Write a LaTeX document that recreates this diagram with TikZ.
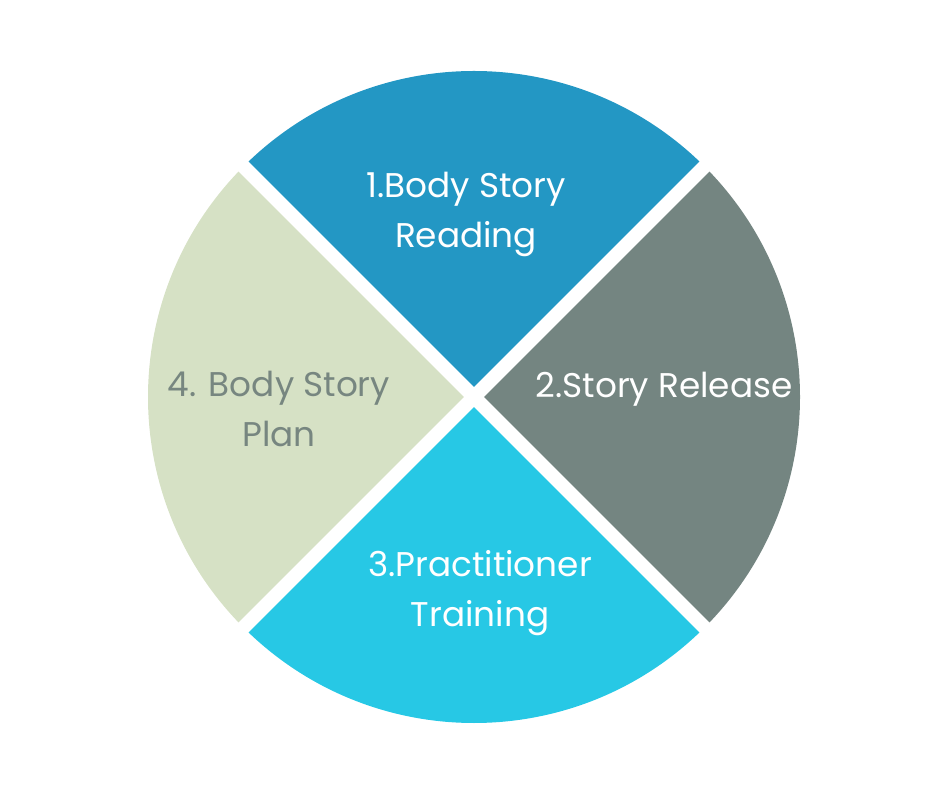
\documentclass[tikz,border=0pt]{standalone}
\usepackage{fontspec}
\setmainfont{Poppins}
\usetikzlibrary{calc}

\definecolor{readblue}{HTML}{2397C4}
\definecolor{releasegrey}{HTML}{748581}
\definecolor{traincyan}{HTML}{27C8E5}
\definecolor{plangreen}{HTML}{D6E1C5}
\definecolor{plantext}{HTML}{778680}

\tikzset{
  quartertext/.style={align=center, font=\fontsize{19.5}{28.4}\selectfont, text=white},
  gap/.style={white, line width=0.28cm}
}

\begin{document}
\begin{tikzpicture}

            % Rahmen (940 x 788 px, 1px = 0.02cm)
            \useasboundingbox (0,0) rectangle (18.8,15.76);

            % Mittelpunkt und Radius
            \coordinate (c) at (9.48,7.82);
            \pgfmathsetmacro{\R}{6.52}

            % Viertel
            \fill[readblue] (c) -- ++(45:\R) arc (45:135:\R) -- cycle;
            \fill[plangreen] (c) -- ++(135:\R) arc (135:225:\R) -- cycle;
            \fill[traincyan] (c) -- ++(225:\R) arc (225:315:\R) -- cycle;
            \fill[releasegrey] (c) -- ++(315:\R) arc (315:405:\R) -- cycle;

            % weisse Trennlinien
            \draw[gap] ($(c)+(45:\R+0.2)$) -- ($(c)+(225:\R+0.2)$);
            \draw[gap] ($(c)+(135:\R+0.2)$) -- ($(c)+(315:\R+0.2)$);

            % Beschriftungen
            \node[quartertext] (reading) at (9.32,11.47) {1.Body Story\\Reading};
            \node[quartertext] (release) at (13.28,7.98) {2.Story Release};
            \node[quartertext] (training) at (9.60,3.90) {3.Practitioner\\Training};
            \node[quartertext, text=plantext] (plan) at (5.58,7.58) {4. Body Story\\Plan};

\end{tikzpicture}
\end{document}
